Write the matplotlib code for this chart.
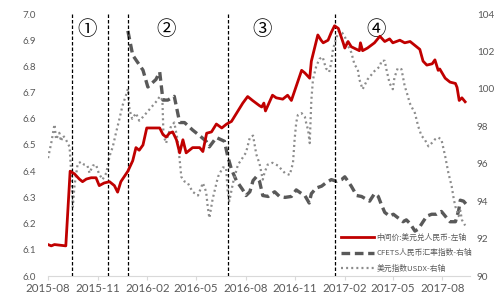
import matplotlib
matplotlib.use("Agg")
import matplotlib.pyplot as plt
import matplotlib.dates as mdates
import pandas as pd

# ---------------- data ----------------
cny_dates = ["2015-08-01","2015-08-07","2015-08-13","2015-09-03","2015-09-11","2015-09-19","2015-09-28",
             "2015-10-04","2015-10-11","2015-10-20","2015-10-29","2015-11-04","2015-11-13","2015-11-23",
             "2015-12-02","2015-12-08","2015-12-14","2015-12-27","2016-01-05","2016-01-11","2016-01-17",
             "2016-01-24","2016-01-31","2016-02-14","2016-02-24","2016-03-01","2016-03-07","2016-03-13",
             "2016-03-19","2016-03-26","2016-04-01","2016-04-07","2016-04-13","2016-04-25","2016-05-08",
             "2016-05-14","2016-05-21","2016-05-30","2016-06-08","2016-06-18","2016-06-27","2016-07-06",
             "2016-07-15","2016-07-27","2016-08-05","2016-08-14","2016-08-27","2016-08-31","2016-09-04",
             "2016-09-07","2016-09-20","2016-09-27","2016-10-09","2016-10-18","2016-10-25","2016-11-13",
             "2016-11-19","2016-11-28","2016-12-01","2016-12-13","2016-12-19","2016-12-23","2017-01-01",
             "2017-01-07","2017-01-13","2017-01-20","2017-01-29","2017-02-01","2017-02-07","2017-02-13",
             "2017-02-22","2017-02-28","2017-03-02","2017-03-06","2017-03-15","2017-03-28","2017-04-07",
             "2017-04-16","2017-04-25","2017-05-01","2017-05-14","2017-05-23","2017-06-02","2017-06-11",
             "2017-06-20","2017-06-26","2017-07-03","2017-07-13","2017-07-18","2017-07-24","2017-07-27",
             "2017-08-06","2017-08-15","2017-08-25","2017-08-28","2017-09-01","2017-09-06","2017-09-12"]
cny_values = [6.12, 6.115, 6.12, 6.115, 6.40, 6.39, 6.37,
              6.36, 6.37, 6.375, 6.375, 6.345, 6.355, 6.36,
              6.345, 6.32, 6.36, 6.40, 6.44, 6.49, 6.48,
              6.50, 6.565, 6.565, 6.565, 6.54, 6.53, 6.545,
              6.55, 6.52, 6.47, 6.52, 6.47, 6.49, 6.49,
              6.475, 6.545, 6.55, 6.58, 6.565, 6.58, 6.59,
              6.62, 6.66, 6.685, 6.67, 6.65, 6.645, 6.66,
              6.63, 6.69, 6.68, 6.675, 6.69, 6.67, 6.785,
              6.775, 6.755, 6.82, 6.92, 6.90, 6.89, 6.90,
              6.93, 6.955, 6.945, 6.89, 6.87, 6.895, 6.875,
              6.866, 6.86, 6.89, 6.86, 6.87, 6.89, 6.915,
              6.895, 6.905, 6.89, 6.90, 6.89, 6.895, 6.88,
              6.865, 6.82, 6.805, 6.81, 6.825, 6.785, 6.79,
              6.755, 6.74, 6.735, 6.72, 6.67, 6.68, 6.665]

cfets_dates = ["2015-12-27","2016-01-05","2016-01-24","2016-02-02","2016-02-17","2016-02-24","2016-03-01",
               "2016-03-10","2016-03-22","2016-04-01","2016-04-10","2016-04-25","2016-05-08","2016-05-20",
               "2016-05-26","2016-06-08","2016-06-23","2016-06-29","2016-07-06","2016-07-15","2016-07-27",
               "2016-08-02","2016-08-09","2016-08-15","2016-08-21","2016-08-27","2016-09-02","2016-09-12",
               "2016-09-24","2016-10-03","2016-10-13","2016-10-25","2016-11-03","2016-11-13","2016-11-19",
               "2016-11-27","2016-12-01","2016-12-10","2016-12-20","2016-12-29","2017-01-07","2017-01-17",
               "2017-01-26","2017-02-01","2017-02-07","2017-02-13","2017-02-23","2017-03-04","2017-03-13",
               "2017-03-19","2017-03-28","2017-04-04","2017-04-10","2017-04-16","2017-04-25","2017-05-02",
               "2017-05-11","2017-05-20","2017-05-26","2017-06-02","2017-06-11","2017-06-17","2017-06-26",
               "2017-07-03","2017-07-12","2017-07-21","2017-07-30","2017-08-09","2017-08-15","2017-08-25",
               "2017-08-31","2017-09-03","2017-09-09","2017-09-15"]
cfets_values = [103.1, 101.8, 101.0, 100.1, 100.5, 100.9, 99.4,
                99.4, 99.6, 98.2, 98.2, 97.8, 97.5, 97.2,
                96.9, 97.4, 97.2, 96.4, 95.7, 95.1, 94.6,
                94.3, 94.5, 95.1, 95.3, 95.06, 94.3, 94.25,
                94.5, 94.25, 94.2, 94.25, 94.6, 94.4, 94.3,
                93.9, 94.4, 94.7, 94.8, 95.0, 95.15, 95.06,
                95.15, 95.3, 95.06, 94.8, 94.3, 94.25, 94.1,
                94.0, 94.4, 94.25, 93.8, 93.4, 93.2, 93.3,
                93.1, 92.9, 93.0, 92.8, 92.4, 92.5, 92.9,
                93.2, 93.3, 93.3, 93.45, 93.1, 92.9, 92.9,
                93.5, 94.05, 94.0, 93.8]

usdx_dates = ["2015-08-01","2015-08-07","2015-08-13","2015-08-16","2015-08-22","2015-08-25","2015-08-29",
              "2015-09-03","2015-09-10","2015-09-13","2015-09-16","2015-09-19","2015-09-25","2015-10-01",
              "2015-10-07","2015-10-13","2015-10-17","2015-10-23","2015-10-29","2015-11-03","2015-11-10",
              "2015-11-17","2015-11-23","2015-11-29","2015-12-05","2015-12-11","2015-12-17","2015-12-24",
              "2015-12-27","2015-12-30","2016-01-04","2016-01-11","2016-01-17","2016-01-24","2016-01-30",
              "2016-02-11","2016-02-20","2016-02-24","2016-02-29","2016-03-02","2016-03-07","2016-03-10",
              "2016-03-16","2016-03-22","2016-03-28","2016-04-01","2016-04-04","2016-04-10","2016-04-16",
              "2016-04-25","2016-05-05","2016-05-14","2016-05-20","2016-05-23","2016-05-26","2016-06-01",
              "2016-06-11","2016-06-20","2016-06-26","2016-06-29","2016-07-02","2016-07-09","2016-07-18",
              "2016-07-24","2016-08-02","2016-08-09","2016-08-15","2016-08-21","2016-08-27","2016-09-02",
              "2016-09-05","2016-09-11","2016-09-20","2016-09-30","2016-10-13","2016-10-22","2016-10-28",
              "2016-10-31","2016-11-03","2016-11-06","2016-11-13","2016-11-19","2016-11-22","2016-11-25",
              "2016-11-28","2016-12-01","2016-12-04","2016-12-10","2016-12-16","2016-12-22","2016-12-28",
              "2017-01-03","2017-01-07","2017-01-10","2017-01-15","2017-01-21","2017-01-27","2017-02-01",
              "2017-02-07","2017-02-13","2017-02-19","2017-02-25","2017-02-28","2017-03-06","2017-03-15",
              "2017-03-28","2017-04-07","2017-04-10","2017-04-16","2017-04-19","2017-04-25","2017-05-01",
              "2017-05-04","2017-05-10","2017-05-17","2017-05-23","2017-05-29","2017-06-01","2017-06-04",
              "2017-06-11","2017-06-17","2017-06-23","2017-06-29","2017-07-06","2017-07-12","2017-07-18",
              "2017-07-24","2017-07-30","2017-08-06","2017-08-12","2017-08-18","2017-08-22","2017-08-25",
              "2017-08-28","2017-08-31","2017-09-03","2017-09-06","2017-09-12"]
usdx_values = [96.3, 97.1, 98.1, 97.3, 97.65, 97.2, 97.5,
               97.3, 96.9, 95.5, 93.7, 94.8, 96.0, 96.1,
               95.95, 95.9, 95.5, 95.9, 95.95, 95.5, 95.15,
               95.5, 96.4, 96.9, 97.65, 98.35, 99.1, 99.7,
               100.0, 98.9, 98.4, 98.7, 98.3, 98.5, 98.7,
               99.1, 99.4, 99.6, 99.4, 97.5, 97.1, 97.5,
               98.0, 98.2, 97.3, 96.2, 95.3, 95.05, 94.97,
               94.5, 94.3, 94.97, 94.5, 93.7, 93.1, 94.1,
               95.3, 95.8, 95.8, 94.5, 94.0, 95.0, 95.95,
               96.2, 96.6, 97.4, 97.5, 96.5, 96.0, 95.15,
               95.5, 95.95, 96.05, 95.9, 95.5, 95.4, 96.05,
               97.3, 98.2, 98.6, 98.7, 98.5, 98.1, 97.8,
               97.1, 99.4, 100.5, 101.2, 101.6, 101.7, 101.1,
               100.9, 101.4, 102.1, 102.6, 103.1, 103.0, 102.8,
               102.3, 101.95, 101.3, 101.05, 100.5, 99.98, 100.5,
               100.95, 101.2, 101.5, 101.5, 101.05, 100.3, 99.98,
               100.6, 101.1, 101.05, 100.15, 99.6, 99.26, 99.08,
               98.7, 98.0, 97.5, 97.3, 96.93, 97.1, 97.3,
               97.4, 97.3, 96.4, 95.5, 94.8, 94.1, 93.7,
               93.5, 93.2, 93.5, 93.0, 92.7]

period_lines = ["2015-09-14", "2015-11-21", "2015-12-28", "2016-06-30", "2017-01-14"]
period_labels = ["①", "②", "③", "④"]
period_label_dates = ["2015-10-13", "2016-03-06", "2016-08-31", "2017-03-31"]

series_names = ["中间价:美元兑人民币-左轴", "CFETS人民币汇率指数-右轴", "美元指数USDX-右轴"]

left_ticks = [6.0, 6.1, 6.2, 6.3, 6.4, 6.5, 6.6, 6.7, 6.8, 6.9, 7.0]
right_ticks = [90, 92, 94, 96, 98, 100, 102, 104]

# ---------------- figure ----------------
plt.rcParams['font.family'] = ['Lato', 'Noto Sans CJK SC', 'DejaVu Sans']
fig = plt.figure(figsize=(5.0, 3.06), dpi=100)
ax = fig.add_axes([48/500, 1-276/306, (470-48)/500, (276-14)/306])
ax2 = ax.twinx()
ax.set_zorder(ax2.get_zorder() + 1)
ax.patch.set_visible(False)

red = '#C00000'
dash_c = '#595959'
dot_c = '#8C8C8C'
txt_c = '#595959'

l1, = ax.plot(pd.to_datetime(cny_dates), cny_values, color=red, lw=2.0,
              solid_joinstyle='round', zorder=5, label=series_names[0])
l2, = ax2.plot(pd.to_datetime(cfets_dates), cfets_values, color=dash_c, lw=2.4,
               dashes=(2.6, 1.4), label=series_names[1])
l3, = ax2.plot(pd.to_datetime(usdx_dates), usdx_values, color=dot_c, lw=1.6,
               linestyle=(0, (0.9, 1.4)), label=series_names[2])

for d in period_lines:
    ax.axvline(pd.Timestamp(d), color='black', lw=0.9, dashes=(2.8, 1.6), zorder=4)

for lab, d in zip(period_labels, period_label_dates):
    ax.text(pd.Timestamp(d), 0.94, lab, transform=ax.get_xaxis_transform(),
            ha='center', va='center', fontsize=14, color='black',
            family=['Noto Sans CJK SC', 'DejaVu Sans'])

ax.set_xlim(pd.Timestamp("2015-08-01"), pd.Timestamp("2017-09-21"))
ax.set_ylim(6.0, 7.0)
ax2.set_ylim(90, 104)
ax.set_yticks(left_ticks)
ax.set_yticklabels([f"{v:.1f}" for v in left_ticks])
ax2.set_yticks(right_ticks)
ax2.set_yticklabels([str(v) for v in right_ticks])

ax.xaxis.set_major_locator(mdates.MonthLocator(bymonth=[2, 5, 8, 11]))
ax.xaxis.set_major_formatter(mdates.DateFormatter('%Y-%m'))

for a in (ax, ax2):
    for s in ('top', 'left', 'right', 'bottom'):
        a.spines[s].set_visible(False)
ax.spines['bottom'].set_visible(True)
ax.spines['bottom'].set_color('#D9D9D9')
ax.spines['bottom'].set_linewidth(0.8)

ax.tick_params(axis='y', length=0, labelsize=7.0, labelcolor=txt_c, pad=8.5)
ax2.tick_params(axis='y', length=0, labelsize=7.2, labelcolor=txt_c, pad=5)
ax.tick_params(axis='x', length=3, color='#D9D9D9', labelsize=8.3, labelcolor=txt_c, pad=2)
ax2.tick_params(axis='x', length=0)

leg = ax.legend(handles=[l1, l2, l3], loc='lower left',
                bbox_to_anchor=(341/500, (306-273)/306), bbox_transform=fig.transFigure,
                frameon=False, handlelength=4.2, handletextpad=0.35,
                labelspacing=0.95, borderpad=0, borderaxespad=0,
                prop={'family': ['Noto Sans CJK SC', 'DejaVu Sans'], 'size': 5.6})
for t in leg.get_texts():
    t.set_color(txt_c)

fig.savefig("out.png", dpi=100)
